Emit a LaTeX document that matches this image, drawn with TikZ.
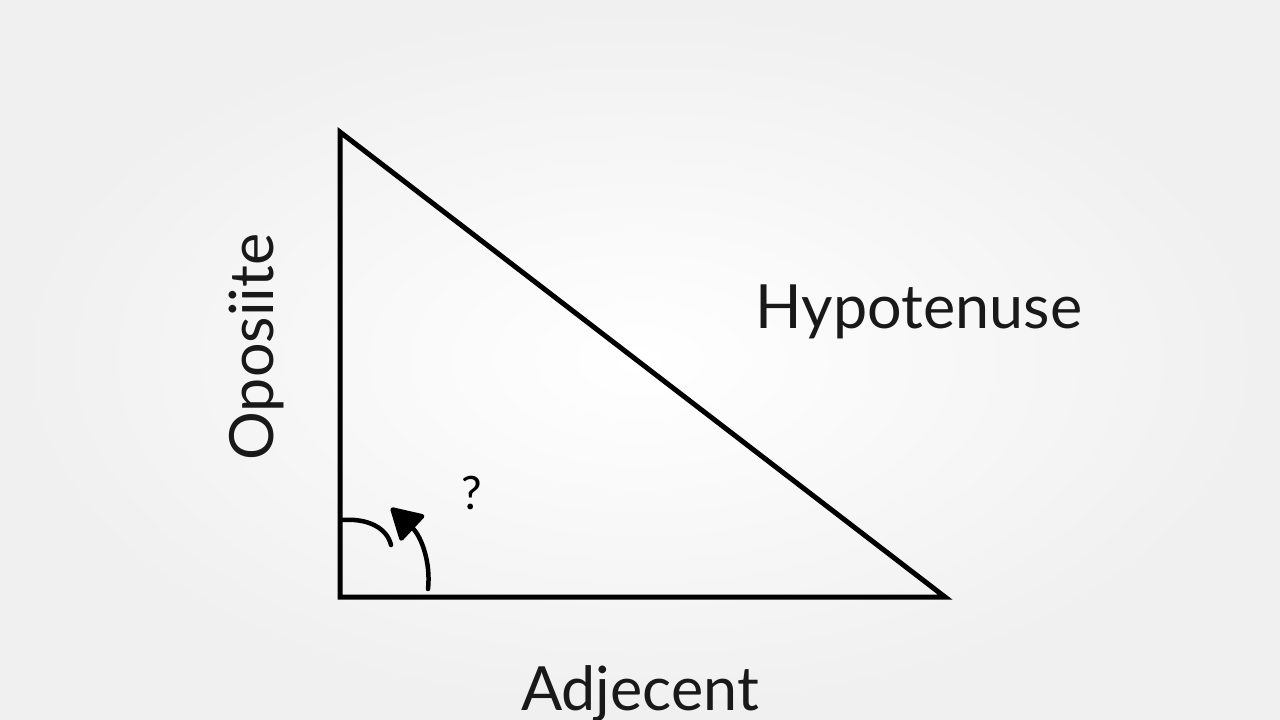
\documentclass[tikz,border=0pt]{standalone}
\usepackage{fontspec}
\setmainfont{Lato}
\usetikzlibrary{arrows.meta}
\begin{document}
\begin{tikzpicture}[x=1pt,y=-1pt,
  side/.style={line width=5pt, line join=miter, line cap=rect},
  angarc/.style={line width=4.5pt, line cap=round},
  lbl/.style={inner sep=0pt, font=\fontsize{61}{61}\selectfont, text=black!90}]
\useasboundingbox (0,0) rectangle (1280,720);
\shade[inner color=white, outer color=black!6] (0,0) rectangle (1280,720);
\coordinate (A) at (340,132);
\coordinate (B) at (340,597);
\coordinate (C) at (945,597);
\draw[side] (A) -- (B) -- (C) -- cycle;
% angle marks
\coordinate (a1) at (342,520);
\coordinate (a2) at (391,545);
\draw[angarc] (a1) .. controls (368,518) and (387,528) .. (a2);
\coordinate (b1) at (428,589);
\coordinate (b2) at (391,508);
\draw[angarc, -{Triangle[length=33pt,width=37pt,round=false]}] (b1) .. controls (431,562) and (421,536) .. (b2);
\node[lbl, anchor=base] (hyp) at (919,328) {Hypotenuse};
\node[lbl, anchor=base] (adj) at (640,710) {Adjecent};
\node[lbl, anchor=base, rotate=90] (opp) at (273,347) {Oposiite};
\node[inner sep=0pt, anchor=base, font=\fontsize{46}{46}\selectfont] (q) at (472,509) {?};
\end{tikzpicture}
\end{document}
